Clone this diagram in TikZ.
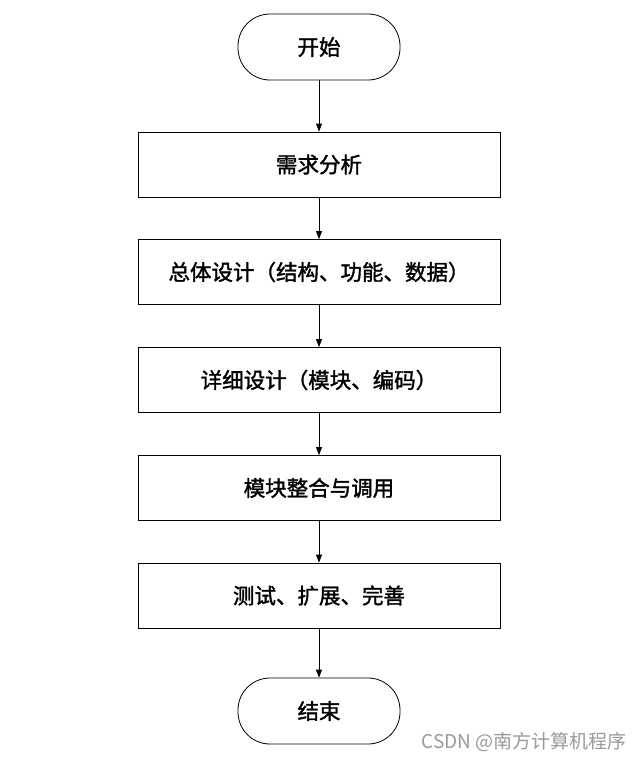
\documentclass[tikz,border=0pt]{standalone}
\usepackage{fontspec}
\newfontfamily\cjk{Noto Sans CJK SC}
\newfontfamily\cjkb{Noto Sans CJK SC}[FakeBold=1.6]
\usetikzlibrary{arrows.meta}
\begin{document}
\begin{tikzpicture}[x=1pt,y=-1pt,
 box/.style={draw,thick,minimum width=362pt,minimum height=65pt,font=\cjkb\fontsize{21.5}{24}\selectfont,inner sep=0pt},
 term/.style={draw,thick,rounded corners=32pt,minimum width=162pt,minimum height=66pt,font=\cjkb\fontsize{21.5}{24}\selectfont,inner sep=0pt},
 arr/.style={-{Triangle[length=8pt,width=6pt]},thick}]
\useasboundingbox (0,0) rectangle (643,761);
\node[term] (s) at (319,47) {开始};
\node[box] (b1) at (319,164.5) {需求分析};
\node[box] (b2) at (319,272) {总体设计（结构、功能、数据）};
\node[box] (b3) at (319,380) {详细设计（模块、编码）};
\node[box] (b4) at (319,488) {模块整合与调用};
\node[box] (b5) at (319,595.5) {测试、扩展、完善};
\node[term] (e) at (319,711) {结束};
\draw[arr] (s) -- (b1);
\draw[arr] (b1) -- (b2);
\draw[arr] (b2) -- (b3);
\draw[arr] (b3) -- (b4);
\draw[arr] (b4) -- (b5);
\draw[arr] (b5) -- (e);
\node[anchor=east,text=gray!80,font=\cjk\fontsize{19}{21}\selectfont] (w) at (630,742) {CSDN @南方计算机程序};
\end{tikzpicture}
\end{document}
